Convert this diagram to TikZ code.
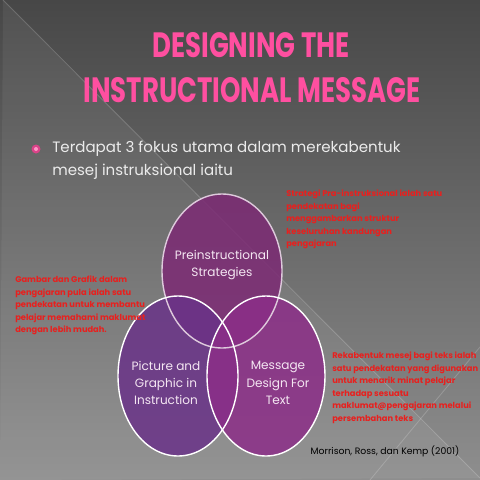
\documentclass[tikz,border=0pt]{standalone}
\usepackage{fontspec}
\setmainfont{Poppins}
\usepackage{tikz}
\usetikzlibrary{positioning}
\usepackage{xcolor}
\definecolor{titlepink}{HTML}{FF4FA0}
\definecolor{notered}{HTML}{E8201E}
\definecolor{venntxt}{HTML}{F4E6F2}
\definecolor{bgtop}{HTML}{474747}
\definecolor{bgmid}{HTML}{5C5C5C}
\definecolor{bgbot}{HTML}{8E8E8E}
\definecolor{toppurple}{HTML}{7C2A74}
\definecolor{leftpurple}{HTML}{6A3388}
\definecolor{rightpurple}{HTML}{8C2E88}

\tikzset{
  note/.style={anchor=north west,align=left,text=notered,inner sep=0pt,
    font=\fontsize{5.9}{8.9}\selectfont\bfseries},
  venntext/.style={align=center,text=venntxt,inner sep=0pt,
    font=\fontsize{8.6}{12.4}\selectfont},
  ring/.style={draw=white,line width=1pt},
}

\begin{document}
\begin{tikzpicture}[x=0.025cm,y=-0.025cm]
    \useasboundingbox (0,0) rectangle (480,480);
    \shade[top color=bgtop,middle color=bgmid,bottom color=bgbot] (0,0) rectangle (480,480);
    \fill[white,opacity=0.06] (3,0) -- (480,478) -- (0,480) -- cycle;
    \draw[white,opacity=0.18,line width=0.6pt] (3,0) -- (480,478);
    \draw[white,opacity=0.18,line width=0.6pt] (480,347) -- (370,480);

    \node[text=titlepink,font=\fontsize{25}{25}\selectfont\bfseries] (title1) at (251,45)
      {\scalebox{0.74}[1]{DESIGNING THE}};
    \node[text=titlepink,font=\fontsize{25}{25}\selectfont\bfseries] (title2) at (252,90)
      {\scalebox{0.74}[1]{INSTRUCTIONAL MESSAGE}};

    \fill[titlepink!85!black] (36,149) circle (4.5);
    \fill[titlepink!60!white] (36,149) circle (2);
    \node[anchor=north west,align=left,text=white!92!black,inner sep=0pt,
      font=\fontsize{10.7}{16}\selectfont] (bullet) at (52,141)
      {Terdapat 3 fokus utama dalam merekabentuk\\mesej instruksional iaitu};

    \fill[toppurple,opacity=0.85] (222,271) ellipse [x radius=60, y radius=77];
    \fill[leftpurple,opacity=0.85] (178,376) ellipse [x radius=60, y radius=80];
    \fill[rightpurple,opacity=0.85] (266,376) ellipse [x radius=59, y radius=80];
    \draw[ring,white!75!toppurple] (222,271) ellipse [x radius=60, y radius=77];
    \draw[ring] (178,376) ellipse [x radius=60, y radius=80];
    \draw[ring] (266,376) ellipse [x radius=59, y radius=80];

    \node[venntext] (pre) at (222,265) {Preinstructional\\Strategies};
    \node[venntext] (pic) at (166,383) {Picture and\\Graphic in\\Instruction};
    \node[venntext] (msg) at (278,383) {Message\\Design For\\Text};

    \node[note] (prenote) at (286,190)
      {Strategi Pra-instruksional ialah satu\\pendekatan bagi\\menggambarkan struktur\\keseluruhan kandungan\\pengajaran};
    \node[note] (picnote) at (15,276)
      {Gambar dan Grafik dalam\\pengajaran pula ialah satu\\pendekatan untuk membantu\\pelajar memahami maklumat\\dengan lebih mudah.};
    \node[note] (msgnote) at (332,352)
      {Rekabentuk mesej bagi teks ialah\\satu pendekatan yang digunakan\\untuk menarik minat pelajar\\terhadap sesuatu\\maklumat@pengajaran melalui\\persembahan teks};

    \node[font=\fontsize{6.6}{9}\selectfont,text=black] (cite) at (385,451)
      {Morrison, Ross, dan Kemp (2001)};
\end{tikzpicture}
\end{document}
